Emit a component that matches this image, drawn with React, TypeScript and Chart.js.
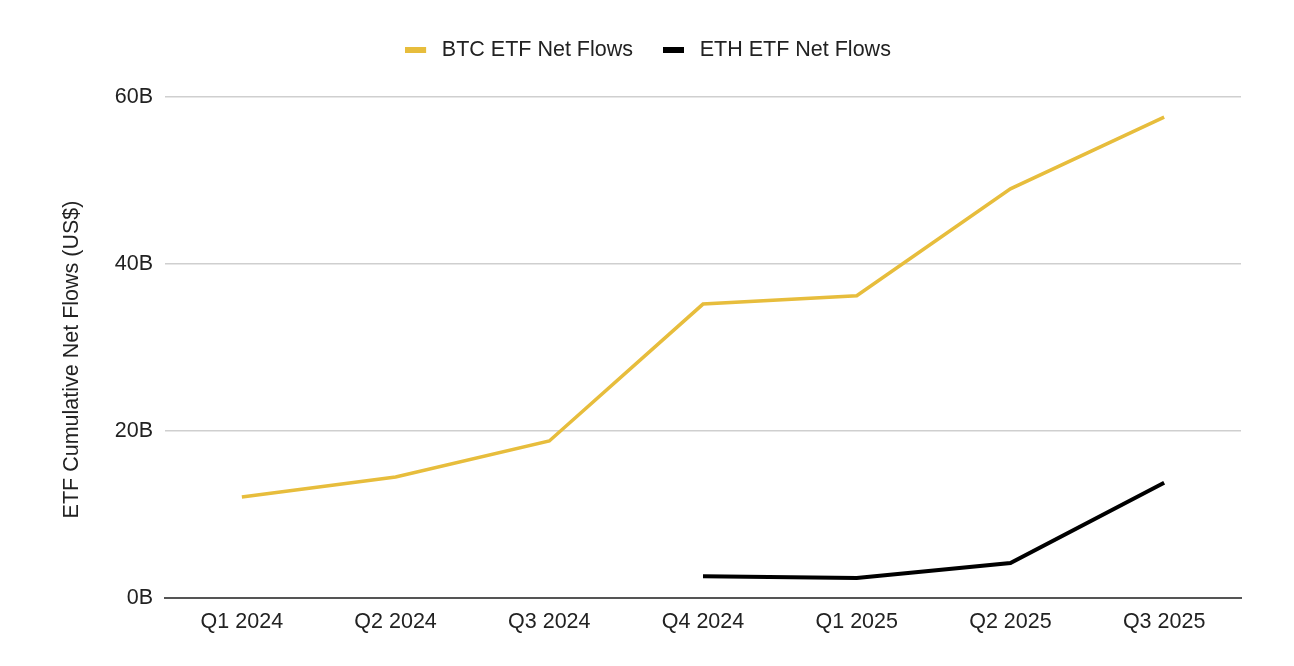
import React, { useEffect, useRef } from "react";
import { Chart, registerables } from "chart.js";

Chart.register(...registerables);

const categories = ["Q1 2024", "Q2 2024", "Q3 2024", "Q4 2024", "Q1 2025", "Q2 2025", "Q3 2025"];
const btcFlows = [12.1, 14.5, 18.8, 35.2, 36.2, 49.0, 57.6];
const ethFlows: (number | null)[] = [null, null, null, 2.6, 2.4, 4.2, 13.8];
const yTicks = [0, 20, 40, 60];
const yTitle = "ETF Cumulative Net Flows (US$)";

const BTC_COLOR = "#E7BD3C";
const ETH_COLOR = "#000000";
const TEXT_COLOR = "#222";
const FONT = "'Liberation Sans', Arial, sans-serif";
const FS = 21.5;

function makeSwatch(color: string) {
  const c = document.createElement("canvas");
  c.width = 26;
  c.height = 6;
  const g = c.getContext("2d")!;
  g.fillStyle = color;
  g.fillRect(0, 0, 21, 6);
  return c;
}

export default function App() {
  const ref = useRef<HTMLCanvasElement | null>(null);

  useEffect(() => {
    if (!ref.current) return;
    const swatches = [makeSwatch(BTC_COLOR), makeSwatch(ETH_COLOR)];
    const legendSpacer = {
      id: "legendSpacer",
      beforeInit(chart: any) {
        const fit = chart.legend.fit;
        chart.legend.fit = function () {
          fit.call(this);
          this.height += 26.5;
        };
      },
    };
    const yTitlePlugin = {
      id: "yTitlePlugin",
      afterDraw(chart: any) {
        const { ctx, chartArea } = chart;
        ctx.save();
        ctx.font = `${FS}px ${FONT}`;
        ctx.fillStyle = TEXT_COLOR;
        ctx.textAlign = "center";
        ctx.textBaseline = "middle";
        ctx.translate(72, (chartArea.top + chartArea.bottom) / 2 + 12);
        ctx.rotate(-Math.PI / 2);
        ctx.fillText(yTitle, 0, 0);
        ctx.restore();
      },
    };
    const chart = new Chart(ref.current, {
      type: "line",
      data: {
        labels: categories,
        datasets: [
          {
            label: "BTC ETF Net Flows",
            data: btcFlows,
            borderColor: BTC_COLOR,
            backgroundColor: BTC_COLOR,
            borderWidth: 3.5,
            pointRadius: 0,
            tension: 0,
          },
          {
            label: "ETH ETF Net Flows",
            data: ethFlows,
            borderColor: ETH_COLOR,
            backgroundColor: ETH_COLOR,
            borderWidth: 4,
            pointRadius: 0,
            tension: 0,
            spanGaps: false,
          },
        ],
      },
      plugins: [legendSpacer, yTitlePlugin],
      options: {
        responsive: true,
        maintainAspectRatio: false,
        animation: false,
        layout: { padding: { left: 55, right: 53, top: 9, bottom: 0 } },
        plugins: {
          tooltip: { enabled: false },
          legend: {
            position: "top",
            labels: {
              usePointStyle: true,
              pointStyleWidth: 26,
              boxHeight: 6,
              padding: 30,
              color: TEXT_COLOR,
              font: { family: FONT, size: FS },
              generateLabels: (ch: any) =>
                ch.data.datasets.map((ds: any, i: number) => ({
                  text: ds.label,
                  fillStyle: ds.borderColor,
                  strokeStyle: ds.borderColor,
                  lineWidth: 0,
                  pointStyle: swatches[i],
                  datasetIndex: i,
                  hidden: false,
                  fontColor: TEXT_COLOR,
                })),
            },
          },
        },
        scales: {
          x: {
            offset: true,
            grid: { display: false, drawTicks: false },
            border: { display: true, color: "#555", width: 2 },
            ticks: { color: TEXT_COLOR, padding: 11, font: { family: FONT, size: FS }, maxRotation: 0 },
            afterFit: (axis: any) => {
              axis.height = 68;
            },
          },
          y: {
            min: 0,
            max: 60,
            afterBuildTicks: (axis: any) => {
              axis.ticks = yTicks.map((v) => ({ value: v }));
            },
            grid: {
              drawTicks: false,
              color: (ctx: any) => (ctx.tick && ctx.tick.value === 0 ? "#555" : "#cfcfcf"),
              lineWidth: (ctx: any) => (ctx.tick && ctx.tick.value === 0 ? 2 : 1.5),
            },
            border: { display: false },
            ticks: {
              color: TEXT_COLOR,
              padding: 12,
              font: { family: FONT, size: FS },
              callback: (v: any) => `${v}B`,
            },
            title: { display: false },
            afterFit: (axis: any) => {
              axis.width = 110;
            },
          },
        },
      },
    });
    return () => chart.destroy();
  }, []);

  return (
    <div style={{ position: "absolute", left: 0, top: 0, width: 1294, height: 666, background: "#fff" }}>
      <canvas ref={ref} />
    </div>
  );
}
